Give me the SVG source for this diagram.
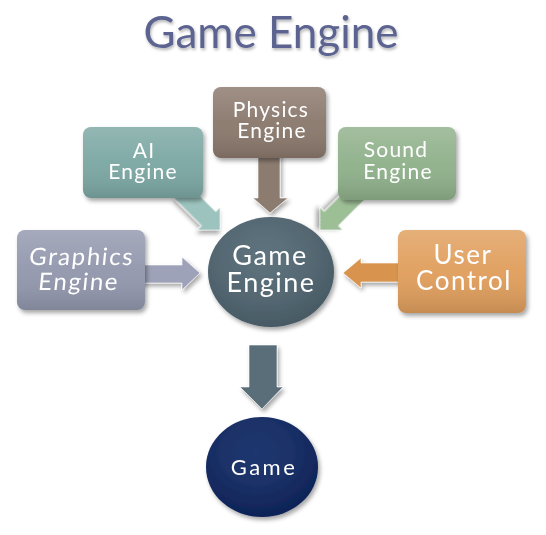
<svg xmlns="http://www.w3.org/2000/svg" width="546" height="535" viewBox="0 0 546 535">
<defs>
<filter id="sh" x="-20%" y="-20%" width="150%" height="150%">
<feDropShadow dx="2" dy="3" stdDeviation="2" flood-color="#000" flood-opacity="0.35"/>
</filter>
<filter id="tsh" x="-10%" y="-10%" width="120%" height="140%">
<feDropShadow dx="1" dy="2" stdDeviation="1.5" flood-color="#000" flood-opacity="0.3"/>
</filter>
<linearGradient id="gloss" x1="0" y1="0" x2="0" y2="1">
<stop offset="0" stop-color="#fff" stop-opacity="0.18"/>
<stop offset="0.5" stop-color="#fff" stop-opacity="0.04"/>
<stop offset="1" stop-color="#000" stop-opacity="0.12"/>
</linearGradient>
<radialGradient id="cg" cx="0.45" cy="0.35" r="0.7">
<stop offset="0" stop-color="#fff" stop-opacity="0.08"/>
<stop offset="1" stop-color="#000" stop-opacity="0.15"/>
</radialGradient>
</defs>
<style>
.t{font-family:"Lato","Open Sans","Liberation Sans",sans-serif;fill:#fff;text-anchor:middle}
.s{font-size:21px;letter-spacing:1.2px}
.a{stroke:#fff;stroke-width:1;stroke-opacity:0.6;filter:url(#sh)}
</style>
<text x="271" y="48" font-family="Lato, 'Open Sans', 'Liberation Sans', sans-serif" font-size="44" fill="#5b6490" text-anchor="middle" filter="url(#tsh)">Game Engine</text>
<g id="connectors">
<polygon class="a" fill="#8c7b70" points="258,150 280,150 280,198 288,198 270,213 253,198 258,198"/>
<path class="a" fill="#9cc3be" transform="translate(220,230) rotate(45)" d="M-55,-10 L-16,-10 L-16,-16 L0,0 L-16,16 L-16,10 L-55,10 Z"/>
<path class="a" fill="#9dbf96" transform="translate(320,230) rotate(135)" d="M-55,-10 L-16,-10 L-16,-16 L0,0 L-16,16 L-16,10 L-55,10 Z"/>
<polygon class="a" fill="#9ea2b8" points="140,265 182,265 182,257 200,273 182,290 182,283 140,283"/>
<polygon class="a" fill="#d8944f" points="405,263 361,263 361,258 343,273 361,288 361,282 405,282"/>
<polygon class="a" fill="#5a6e7a" points="249,345 277,345 277,387 283,387 262,409 240,387 249,387"/>
</g>
<g id="physics" filter="url(#sh)">
<rect x="213" y="87" width="113" height="71" rx="8" fill="#8a786c"/>
<rect x="213" y="87" width="113" height="71" rx="8" fill="url(#gloss)"/>
<text class="t s" x="271" y="117">Physics</text>
<text class="t s" x="272" y="138">Engine</text>
</g>
<g id="ai" filter="url(#sh)">
<rect x="83" y="127" width="120" height="71" rx="8" fill="#7ba7a3"/>
<rect x="83" y="127" width="120" height="71" rx="8" fill="url(#gloss)"/>
<text class="t s" x="144" y="158">AI</text>
<text class="t s" x="143" y="179">Engine</text>
</g>
<g id="sound" filter="url(#sh)">
<rect x="338" y="127" width="118" height="73" rx="8" fill="#8fb08a"/>
<rect x="338" y="127" width="118" height="73" rx="8" fill="url(#gloss)"/>
<text class="t s" x="396" y="157">Sound</text>
<text class="t s" x="398" y="179">Engine</text>
</g>
<g id="graphics" filter="url(#sh)">
<rect x="17" y="230" width="128" height="80" rx="8" fill="#9297ad"/>
<rect x="17" y="230" width="128" height="80" rx="8" fill="url(#gloss)"/>
<text class="t" transform="translate(81,265) skewX(-6)" font-size="24" letter-spacing="1.6">Graphics</text>
<text class="t" transform="translate(78,290) skewX(-6)" font-size="24" letter-spacing="1.6">Engine</text>
</g>
<g id="user" filter="url(#sh)">
<rect x="398" y="230" width="128" height="83" rx="8" fill="#e09e5c"/>
<rect x="398" y="230" width="128" height="83" rx="8" fill="url(#gloss)"/>
<text class="t" x="463" y="264" font-size="26" letter-spacing="1.5">User</text>
<text class="t" x="464" y="290" font-size="26" letter-spacing="1.5">Control</text>
</g>
<g id="gameengine" filter="url(#sh)">
<ellipse cx="271" cy="272" rx="63" ry="55" fill="#506672"/>
<ellipse cx="271" cy="272" rx="63" ry="55" fill="url(#cg)"/>
<text class="t" x="270" y="265" font-size="27" letter-spacing="1.5">Game</text>
<text class="t" x="271" y="292" font-size="27" letter-spacing="1.5">Engine</text>
</g>
<g id="game" filter="url(#sh)">
<ellipse cx="262" cy="467" rx="56" ry="50" fill="#0c2562"/>
<ellipse cx="262" cy="467" rx="56" ry="50" fill="url(#cg)"/>
<text class="t" x="264" y="475" font-size="22" letter-spacing="2.5">Game</text>
</g>
</svg>
